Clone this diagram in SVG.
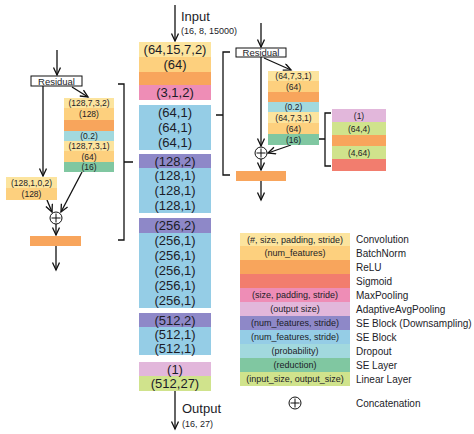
<svg xmlns="http://www.w3.org/2000/svg" width="474" height="434" viewBox="0 0 474 434">
<defs>
<marker id="ah" markerWidth="10" markerHeight="10" refX="8" refY="4" orient="auto" markerUnits="userSpaceOnUse">
<path d="M0.5,0.5 L8,4 L0.5,7.5" fill="none" stroke="#111" stroke-width="1.3"/>
</marker>
</defs>
<style>
text{font-family:"Liberation Sans",Arial,sans-serif;fill:#1c1c28;text-anchor:middle}
.m{font-size:13px}
.s{font-size:8.5px}
.l{font-size:9px}
.lab{font-size:10px;text-anchor:start}
.ln{stroke:#111;stroke-width:1.3;fill:none}
.conv{fill:#FCE49E}.bn{fill:#FDD07E}.relu{fill:#F8A55C}.sig{fill:#F27D6E}
.mp{fill:#EE8DB6}.aap{fill:#E2B7DB}.sed{fill:#8E88C8}.se{fill:#95CDE6}
.drop{fill:#A2D9DE}.sel{fill:#80C7A1}.lin{fill:#D0E38C}
.box{fill:#fff;stroke:#111;stroke-width:1}
</style>

<g id="connectors">
<line class="ln" x1="175" y1="5" x2="175" y2="41" marker-end="url(#ah)"/>
<line class="ln" x1="175" y1="391" x2="175" y2="429" marker-end="url(#ah)"/>
<line class="ln" x1="57" y1="50" x2="57" y2="75" marker-end="url(#ah)"/>
<line class="ln" x1="43" y1="86" x2="43" y2="176" marker-end="url(#ah)"/>
<line class="ln" x1="72" y1="87" x2="88" y2="97" marker-end="url(#ah)"/>
<line class="ln" x1="82" y1="172" x2="61" y2="212" marker-end="url(#ah)"/>
<line class="ln" x1="47" y1="200" x2="52" y2="212" marker-end="url(#ah)"/>
<line class="ln" x1="56" y1="224" x2="56" y2="235" marker-end="url(#ah)"/>
<line class="ln" x1="56" y1="246" x2="56" y2="270" marker-end="url(#ah)"/>
<line class="ln" x1="261" y1="23" x2="261" y2="47" marker-end="url(#ah)"/>
<line class="ln" x1="261" y1="57" x2="261" y2="146" marker-end="url(#ah)"/>
<line class="ln" x1="264" y1="58" x2="291" y2="70" marker-end="url(#ah)"/>
<line class="ln" x1="291" y1="145" x2="268" y2="153" marker-end="url(#ah)"/>
<line class="ln" x1="261" y1="159" x2="261" y2="170" marker-end="url(#ah)"/>
<line class="ln" x1="261" y1="181" x2="261" y2="200" marker-end="url(#ah)"/>
<path class="ln" d="M118,84 H124 V240 H118 M124,162 H133"/>
<path class="ln" d="M230,52 H223 V175 H230 M223,115 H216"/>
<path class="ln" d="M331,113 H325 V166 H331 M325,139 H319"/>
</g>

<g id="io-labels">
<text x="181" y="21" style="font-size:13px;text-anchor:start">Input</text>
<text x="181" y="34" style="font-size:9px;text-anchor:start">(16, 8, 15000)</text>
<text x="182" y="413" style="font-size:13px;text-anchor:start">Output</text>
<text x="182" y="427" style="font-size:9px;text-anchor:start">(16, 27)</text>
</g>

<g id="main-stem">
<rect class="conv" x="139" y="42" width="72" height="15"/>
<rect class="bn" x="139" y="57" width="72" height="15"/>
<rect class="relu" x="139" y="72" width="72" height="13"/>
<rect class="mp" x="139" y="85" width="72" height="15"/>
<text class="m" x="175" y="54">(64,15,7,2)</text>
<text class="m" x="175" y="69">(64)</text>
<text class="m" x="175" y="97">(3,1,2)</text>
</g>

<g id="main-se64">
<rect class="se" x="139" y="105" width="72" height="45"/>
<text class="m" x="175" y="117">(64,1)</text>
<text class="m" x="175" y="132">(64,1)</text>
<text class="m" x="175" y="147">(64,1)</text>
</g>

<g id="main-se128">
<rect class="sed" x="139" y="154" width="72" height="14"/>
<rect class="se" x="139" y="168" width="72" height="45"/>
<text class="m" x="175" y="165.5">(128,2)</text>
<text class="m" x="175" y="180">(128,1)</text>
<text class="m" x="175" y="195">(128,1)</text>
<text class="m" x="175" y="210">(128,1)</text>
</g>

<g id="main-se256">
<rect class="sed" x="139" y="218" width="72" height="15"/>
<rect class="se" x="139" y="233" width="72" height="75"/>
<text class="m" x="175" y="230">(256,2)</text>
<text class="m" x="175" y="245">(256,1)</text>
<text class="m" x="175" y="260">(256,1)</text>
<text class="m" x="175" y="275">(256,1)</text>
<text class="m" x="175" y="290">(256,1)</text>
<text class="m" x="175" y="305">(256,1)</text>
</g>

<g id="main-se512">
<rect class="sed" x="139" y="313" width="72" height="14"/>
<rect class="se" x="139" y="327" width="72" height="28"/>
<text class="m" x="175" y="324.5">(512,2)</text>
<text class="m" x="175" y="338.5">(512,1)</text>
<text class="m" x="175" y="352.5">(512,1)</text>
</g>

<g id="main-head">
<rect class="aap" x="139" y="362" width="72" height="14"/>
<rect class="lin" x="139" y="376" width="72" height="15"/>
<text class="m" x="175" y="373.5">(1)</text>
<text class="m" x="175" y="388">(512,27)</text>
</g>

<g id="left-residual">
<rect class="box" x="31" y="76" width="51" height="10"/>
<text x="56.5" y="84.5" style="font-size:9.5px">Residual</text>
</g>

<g id="left-stack">
<rect class="conv" x="64" y="98" width="50" height="10"/>
<rect class="bn" x="64" y="108" width="50" height="12"/>
<rect class="relu" x="64" y="120" width="50" height="11"/>
<rect class="drop" x="64" y="131" width="50" height="10"/>
<rect class="conv" x="64" y="141" width="50" height="10"/>
<rect class="bn" x="64" y="151" width="50" height="11"/>
<rect class="sel" x="64" y="162" width="50" height="10"/>
<text class="s" x="89" y="106">(128,7,3,2)</text>
<text class="s" x="89" y="117">(128)</text>
<text class="s" x="89" y="139">(0.2)</text>
<text class="s" x="89" y="149">(128,7,3,1)</text>
<text class="s" x="89" y="159.5">(64)</text>
<text class="s" x="89" y="170">(16)</text>
</g>

<g id="left-shortcut">
<rect class="conv" x="6" y="177" width="51" height="11"/>
<rect class="bn" x="6" y="188" width="51" height="12"/>
<text class="s" x="31.5" y="185.5">(128,1,0,2)</text>
<text class="s" x="31.5" y="197">(128)</text>
</g>

<g id="left-plus">
<circle cx="56" cy="218" r="6" fill="#fff" stroke="#111" stroke-width="1"/>
<path d="M51.5,218 H60.5 M56,213.5 V222.5" stroke="#111" stroke-width="1"/>
</g>

<g id="left-relu">
<rect class="relu" x="30" y="236" width="51" height="10"/>
</g>

<g id="right-residual">
<rect class="box" x="236" y="48" width="50" height="9"/>
<text x="261" y="56" style="font-size:9.5px">Residual</text>
</g>

<g id="right-stack">
<rect class="conv" x="268" y="71" width="51" height="10"/>
<rect class="bn" x="268" y="81" width="51" height="11"/>
<rect class="relu" x="268" y="92" width="51" height="10"/>
<rect class="drop" x="268" y="102" width="51" height="10"/>
<rect class="conv" x="268" y="112" width="51" height="11"/>
<rect class="bn" x="268" y="123" width="51" height="11"/>
<rect class="sel" x="268" y="134" width="51" height="11"/>
<text class="s" x="293.5" y="79">(64,7,3,1)</text>
<text class="s" x="293.5" y="89.5">(64)</text>
<text class="s" x="293.5" y="110">(0.2)</text>
<text class="s" x="293.5" y="120.5">(64,7,3,1)</text>
<text class="s" x="293.5" y="131.5">(64)</text>
<text class="s" x="293.5" y="142.5">(16)</text>
</g>

<g id="right-plus">
<circle cx="261" cy="153" r="6" fill="#fff" stroke="#111" stroke-width="1"/>
<path d="M256.5,153 H265.5 M261,148.5 V157.5" stroke="#111" stroke-width="1"/>
</g>

<g id="right-relu">
<rect class="relu" x="236" y="171" width="50" height="10"/>
</g>

<g id="se-layer">
<rect class="aap" x="332" y="109" width="54" height="13"/>
<rect class="lin" x="332" y="122" width="54" height="13"/>
<rect class="relu" x="332" y="135" width="54" height="11"/>
<rect class="lin" x="332" y="146" width="54" height="13"/>
<rect class="sig" x="332" y="159" width="54" height="12"/>
<text class="s" x="359" y="118.5">(1)</text>
<text class="s" x="359" y="131.5">(64,4)</text>
<text class="s" x="359" y="155.5">(4,64)</text>
</g>

<g id="legend">
<rect class="conv" x="240" y="233" width="110" height="13"/>
<rect class="bn" x="240" y="246" width="110" height="14"/>
<rect class="relu" x="240" y="260" width="110" height="14"/>
<rect class="sig" x="240" y="274" width="110" height="14"/>
<rect class="mp" x="240" y="288" width="110" height="14"/>
<rect class="aap" x="240" y="302" width="110" height="14"/>
<rect class="sed" x="240" y="316" width="110" height="14"/>
<rect class="se" x="240" y="330" width="110" height="14"/>
<rect class="drop" x="240" y="344" width="110" height="14"/>
<rect class="sel" x="240" y="358" width="110" height="14"/>
<rect class="lin" x="240" y="372" width="110" height="14"/>
<text class="l" x="295" y="242.5">(#, size, padding, stride)</text>
<text class="l" x="295" y="256">(num_features)</text>
<text class="l" x="295" y="298">(size, padding, stride)</text>
<text class="l" x="295" y="312">(output size)</text>
<text class="l" x="295" y="326">(num_features, stride)</text>
<text class="l" x="295" y="340">(num_features, stride)</text>
<text class="l" x="295" y="354">(probability)</text>
<text class="l" x="295" y="368">(reduction)</text>
<text class="l" x="295" y="382">(input_size, output_size)</text>
<circle cx="295" cy="403" r="6" fill="#fff" stroke="#111" stroke-width="1"/>
<path d="M290.5,403 H299.5 M295,398.5 V407.5" stroke="#111" stroke-width="1"/>
<text class="lab" x="356" y="243">Convolution</text>
<text class="lab" x="356" y="257">BatchNorm</text>
<text class="lab" x="356" y="271">ReLU</text>
<text class="lab" x="356" y="285">Sigmoid</text>
<text class="lab" x="356" y="299">MaxPooling</text>
<text class="lab" x="356" y="313">AdaptiveAvgPooling</text>
<text class="lab" x="356" y="327">SE Block (Downsampling)</text>
<text class="lab" x="356" y="341">SE Block</text>
<text class="lab" x="356" y="355">Dropout</text>
<text class="lab" x="356" y="369">SE Layer</text>
<text class="lab" x="356" y="383">Linear Layer</text>
<text class="lab" x="356" y="407">Concatenation</text>
</g>
</svg>
